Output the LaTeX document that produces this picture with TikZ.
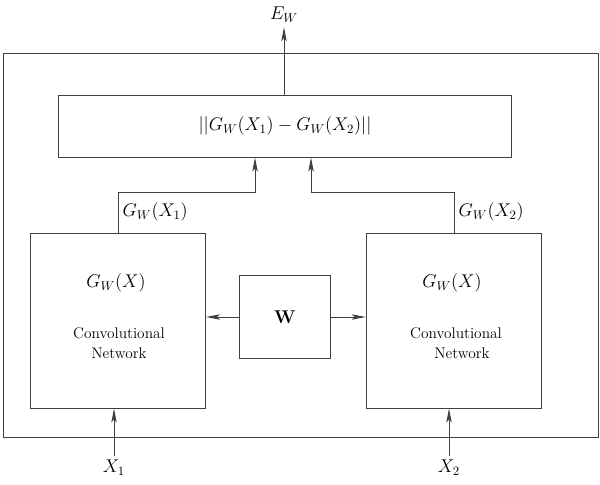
\documentclass[tikz,border=0pt]{standalone}
\usetikzlibrary{arrows.meta}
\begin{document}
\begin{tikzpicture}[x=0.78pt,y=0.78pt,
	line/.style={draw=black!75,line width=.7pt},
	box/.style={line,inner sep=0pt},
	arr/.style={line,-{Stealth[length=11pt,width=4.2pt,inset=2.5pt]}},
	txt/.style={font=\large,inner sep=1pt}]
	\useasboundingbox (0,0) rectangle (600,484);
	\draw[line] (3,47) rectangle (598,431);
	% boxes
	\node[box,minimum width=354pt,minimum height=48.4pt] (dist) at (285,358)
	{\Large $||G_W(X_1) - G_W(X_2)||$};
	\node[box,minimum width=136.5pt,minimum height=136.5pt] (lconv) at (118,163.5) {};
	\node[box,minimum width=137pt,minimum height=136.5pt] (rconv) at (454,163.5) {};
	\node[box,minimum width=71pt,minimum height=64.7pt] (wbox) at (285,167)
	{\Large $\mathbf{W}$};
	\node[font=\Large] (lg) at (116,201) {$G_W(X)$};
	\node[txt] (lc) at (119,151) {Convolutional};
	\node[txt] (ln) at (119,131) {Network};
	\node[font=\Large] (rg) at (452,201) {$G_W(X)$};
	\node[txt] (rc) at (456,151) {Convolutional};
	\node[txt] (rn) at (462,131) {Network};
	% inputs and output
	\node[font=\Large] (ew) at (284,469) {$E_W$};
	\node[font=\Large] (x1) at (114,16) {$X_1$};
	\node[font=\Large] (x2) at (449,16) {$X_2$};
	\coordinate (lbend) at (255,292);
	\coordinate (rbend) at (311,292);
	% connectors
	\draw[arr] (dist.north -| ew) -- (ew.south);
	\draw[arr] (lconv.north) |- node[pos=.25,right,font=\Large] {$G_W(X_1)$} (lbend)
	-- (lbend |- dist.south);
	\draw[arr] (rconv.north) |- node[pos=.25,right,font=\Large] {$G_W(X_2)$} (rbend)
	-- (rbend |- dist.south);
	\draw[arr] (wbox.west) -- (wbox.west -| lconv.east);
	\draw[arr] (wbox.east) -- (wbox.east -| rconv.west);
	\draw[arr] (x1.north) -- (x1 |- lconv.south);
	\draw[arr] (x2.north) -- (x2 |- rconv.south);
\end{tikzpicture}
\end{document}
